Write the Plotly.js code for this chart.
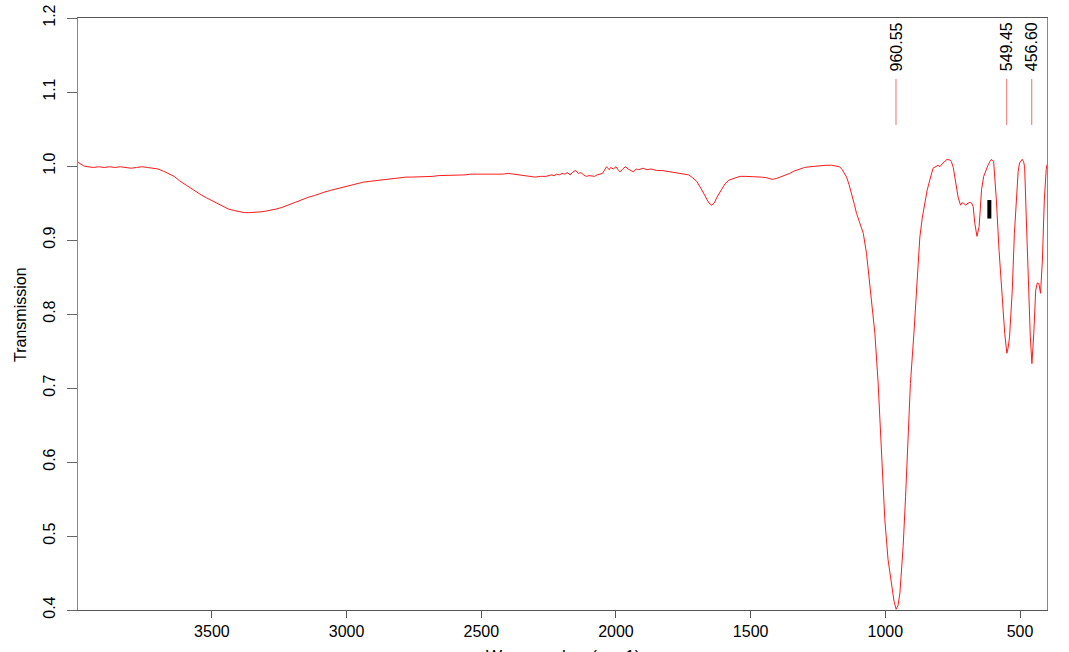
<!DOCTYPE html>
<html>
<head>
<meta charset="utf-8">
<script src="https://cdn.plot.ly/plotly-3.0.1.min.js"></script>
<style>html,body{margin:0;padding:0;background:#fff;}#chart{width:1069px;height:652px;}</style>
</head>
<body>
<div id="chart"></div>
<script>
const wavenumber = [3997,3990,3975,3960,3940,3920,3900,3880,3860,3840,3820,3800,3780,3760,3740,3720,3700,3680,3660,3640,3620,3600,3580,3560,3540,3520,3500,3480,3460,3440,3420,3400,3380,3360,3340,3320,3300,3280,3260,3240,3220,3200,3180,3160,3140,3120,3100,3080,3060,3040,3020,3000,2980,2960,2940,2920,2900,2880,2860,2840,2820,2800,2780,2760,2740,2720,2700,2680,2660,2640,2620,2600,2580,2560,2540,2520,2500,2480,2460,2440,2420,2400,2380,2360,2340,2320,2300,2280,2260,2240,2230,2220,2210,2200,2190,2180,2170,2160,2150,2140,2130,2120,2110,2100,2090,2080,2070,2060,2050,2040,2035,2025,2020,2010,2000,1990,1985,1975,1965,1955,1945,1935,1925,1915,1900,1885,1870,1850,1830,1810,1790,1770,1750,1730,1715,1700,1685,1670,1655,1645,1635,1625,1610,1595,1580,1560,1540,1520,1500,1480,1460,1440,1420,1405,1390,1370,1355,1340,1320,1300,1280,1260,1240,1220,1200,1185,1170,1160,1150,1144,1135,1125,1115,1107,1095,1082,1070,1060,1051,1039,1027,1021,1011,1002,990,977,968,960,953,946,934,925,918,907,894,884,872,863,854,845,835,823,804,798,786,771,760,755,748,742,736,730,721,716,711,706,701,697,693,685,680,674,668,660,652,647,643,635,627,619,612,606,598,593,588,578,566,557,549,544,539,529,521,512,507,502,492,487,483,477,469,462,456,449,442,436,430,424,417,410,403,400];
const transmission = [1.005,1.003,1.000,0.999,0.998,0.999,0.998,0.999,0.998,0.999,0.998,0.997,0.998,0.999,0.998,0.997,0.996,0.993,0.990,0.986,0.980,0.975,0.970,0.965,0.961,0.957,0.953,0.949,0.945,0.942,0.940,0.938,0.937,0.937,0.937,0.938,0.939,0.940,0.942,0.944,0.947,0.950,0.953,0.956,0.958,0.960,0.963,0.965,0.967,0.969,0.971,0.973,0.975,0.977,0.978,0.979,0.980,0.981,0.982,0.983,0.984,0.984,0.985,0.985,0.985,0.986,0.986,0.986,0.987,0.987,0.988,0.988,0.988,0.988,0.989,0.989,0.988,0.989,0.989,0.988,0.989,0.990,0.989,0.988,0.987,0.986,0.985,0.986,0.986,0.988,0.987,0.989,0.988,0.990,0.989,0.991,0.988,0.992,0.994,0.990,0.991,0.988,0.986,0.987,0.986,0.986,0.988,0.989,0.990,0.996,0.999,0.995,0.998,0.996,0.999,0.994,0.992,0.996,0.999,0.996,0.994,0.992,0.996,0.995,0.997,0.995,0.996,0.994,0.994,0.993,0.992,0.991,0.990,0.988,0.984,0.979,0.970,0.960,0.950,0.947,0.950,0.958,0.968,0.976,0.981,0.984,0.986,0.986,0.986,0.986,0.985,0.984,0.982,0.983,0.985,0.988,0.990,0.993,0.996,0.998,0.999,1.000,1.001,1.001,1.001,1.000,0.999,0.995,0.989,0.985,0.975,0.963,0.948,0.936,0.922,0.909,0.882,0.850,0.819,0.774,0.708,0.666,0.589,0.522,0.468,0.432,0.412,0.401,0.406,0.423,0.486,0.553,0.621,0.706,0.774,0.841,0.904,0.930,0.950,0.967,0.981,0.997,1.001,0.999,1.004,1.009,1.008,1.006,0.998,0.986,0.972,0.958,0.947,0.950,0.950,0.948,0.947,0.949,0.950,0.951,0.950,0.945,0.9225,0.905,0.918,0.945,0.968,0.986,0.995,1.001,1.006,1.009,1.006,0.985,0.954,0.886,0.819,0.774,0.747,0.755,0.769,0.832,0.909,0.972,0.993,1.004,1.009,1.006,0.999,0.931,0.841,0.769,0.733,0.774,0.832,0.842,0.841,0.828,0.873,0.954,0.995,1.002];

const peakPositions = [960.55, 549.45, 456.60];
const peakLabels = ["960.55", "549.45", "456.60"];
const xTickValues = [3500, 3000, 2500, 2000, 1500, 1000, 500];
const yTickValues = [0.4, 0.5, 0.6, 0.7, 0.8, 0.9, 1.0, 1.1, 1.2];
const xTitle = 'Wavenumber (cm-1)';
const yTitle = 'Transmission';

const font = "Liberation Sans, Arial, Helvetica, sans-serif";

const shapes = peakPositions.map(p => ({
  type: 'line', xref: 'x', yref: 'y', x0: p, x1: p, y0: 1.0554, y1: 1.1176,
  line: {color: '#e87070', width: 1}
}));
shapes.push({type: 'line', xref: 'x', yref: 'y', x0: 614, x1: 614, y0: 0.929, y1: 0.954,
  line: {color: '#000', width: 4}});

const annotations = peakPositions.map((p, i) => ({
  x: p, y: 1.1615, xref: 'x', yref: 'y', text: peakLabels[i], showarrow: false,
  textangle: -90, xanchor: 'center', yanchor: 'middle',
  font: {family: font, size: 16, color: '#000'}
}));
annotations.push({
  x: 0.5, y: -0.059, xref: 'paper', yref: 'paper', text: xTitle, showarrow: false,
  xanchor: 'center', yanchor: 'top', font: {family: font, size: 17, color: '#000'}
});
annotations.push({
  x: -0.0599, y: 0.5, xref: 'paper', yref: 'paper', text: yTitle, showarrow: false,
  textangle: -90, xanchor: 'center', yanchor: 'middle', font: {family: font, size: 16, color: '#000'}
});

const trace = {
  x: wavenumber, y: transmission, type: 'scatter', mode: 'lines',
  line: {color: '#ff1a1a', width: 1}, hoverinfo: 'skip'
};

const layout = {
  width: 1069, height: 652,
  margin: {l: 78, r: 22, t: 18, b: 42, pad: 0},
  paper_bgcolor: '#fff', plot_bgcolor: '#fff',
  showlegend: false,
  xaxis: {
    range: [3997, 400], showgrid: false, zeroline: false,
    tickmode: 'array', tickvals: xTickValues, ticktext: xTickValues.map(String),
    ticks: 'outside', ticklen: 7, tickcolor: '#555', tickwidth: 1,
    showline: true, linecolor: '#555', linewidth: 1, mirror: true,
    tickfont: {family: font, size: 16, color: '#000'},
    automargin: false
  },
  yaxis: {
    range: [0.4, 1.2], showgrid: false, zeroline: false,
    tickmode: 'array', tickvals: yTickValues, ticktext: yTickValues.map(v => v.toFixed(1)),
    ticks: 'outside', ticklen: 10, tickcolor: '#666', tickwidth: 1,
    tickangle: -90, ticklabelstandoff: 6,
    showline: true, linecolor: '#888', linewidth: 1, mirror: true,
    tickfont: {family: font, size: 16, color: '#000'},
    automargin: false
  },
  shapes: shapes,
  annotations: annotations
};

Plotly.newPlot('chart', [trace], layout, {displayModeBar: false, staticPlot: true});
</script>
</body>
</html>
